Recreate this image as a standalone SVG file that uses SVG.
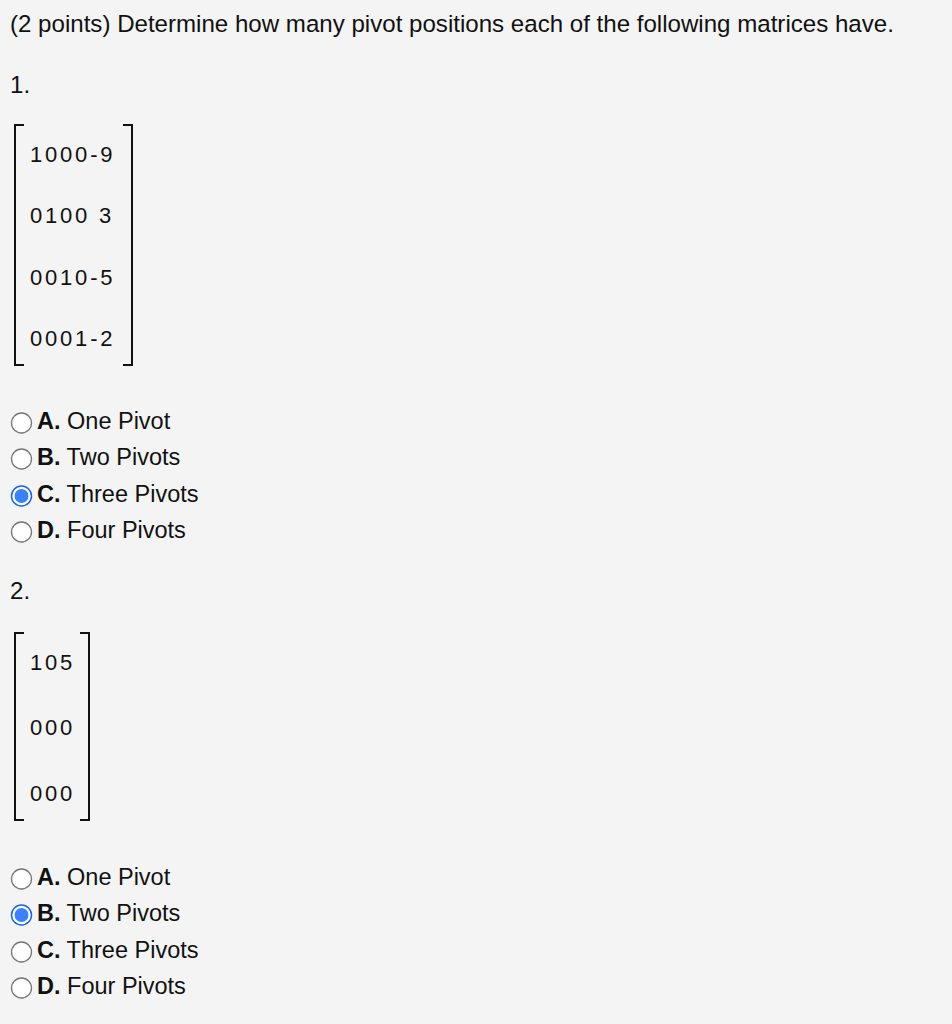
<svg xmlns="http://www.w3.org/2000/svg" width="952" height="1024" viewBox="0 0 952 1024">
<style>
text{font-family:"Liberation Sans",Arial,sans-serif;fill:#111}
.q{font-size:24.1px}
.m{font-size:22px;letter-spacing:2.8px}
.o{font-size:23.5px}
.b{font-weight:bold}
.br{fill:none;stroke:#111;stroke-width:2}
.r{fill:#fff;stroke:#777;stroke-width:1.3}
</style>
<rect width="952" height="1024" fill="#f4f4f4"/>
<text class="q" x="10" y="32">(2 points) Determine how many pivot positions each of the following matrices have.</text>
<text class="q" x="10" y="93">1.</text>
<path class="br" d="M24,125 H15 V365 H24"/>
<path class="br" d="M123,125 H132 V365 H123"/>
<text class="m" x="30" y="162">1000-9</text>
<text class="m" x="30" y="223">0100 3</text>
<text class="m" x="30" y="285">0010-5</text>
<text class="m" x="30" y="346">0001-2</text>
<circle class="r" cx="21.5" cy="423" r="10"/>
<circle class="r" cx="21.5" cy="459" r="10"/>
<circle fill="#fff" stroke="#1a62e8" stroke-width="1.5" cx="21.5" cy="496" r="10"/>
<circle fill="#3b82f6" cx="21.5" cy="496" r="7"/>
<circle class="r" cx="21.5" cy="532" r="10"/>
<text class="o" x="37" y="429"><tspan class="b">A.</tspan> One Pivot</text>
<text class="o" x="37" y="465"><tspan class="b">B.</tspan> Two Pivots</text>
<text class="o" x="37" y="502"><tspan class="b">C.</tspan> Three Pivots</text>
<text class="o" x="37" y="538"><tspan class="b">D.</tspan> Four Pivots</text>
<text class="q" x="10" y="599">2.</text>
<path class="br" d="M24,633 H15 V820 H24"/>
<path class="br" d="M80,633 H89 V820 H80"/>
<text class="m" x="30" y="670">105</text>
<text class="m" x="30" y="735">000</text>
<text class="m" x="30" y="801">000</text>
<circle class="r" cx="21.5" cy="879" r="10"/>
<circle fill="#fff" stroke="#1a62e8" stroke-width="1.5" cx="21.5" cy="915" r="10"/>
<circle fill="#3b82f6" cx="21.5" cy="915" r="7"/>
<circle class="r" cx="21.5" cy="952" r="10"/>
<circle class="r" cx="21.5" cy="988" r="10"/>
<text class="o" x="37" y="885"><tspan class="b">A.</tspan> One Pivot</text>
<text class="o" x="37" y="921"><tspan class="b">B.</tspan> Two Pivots</text>
<text class="o" x="37" y="958"><tspan class="b">C.</tspan> Three Pivots</text>
<text class="o" x="37" y="994"><tspan class="b">D.</tspan> Four Pivots</text>
</svg>
